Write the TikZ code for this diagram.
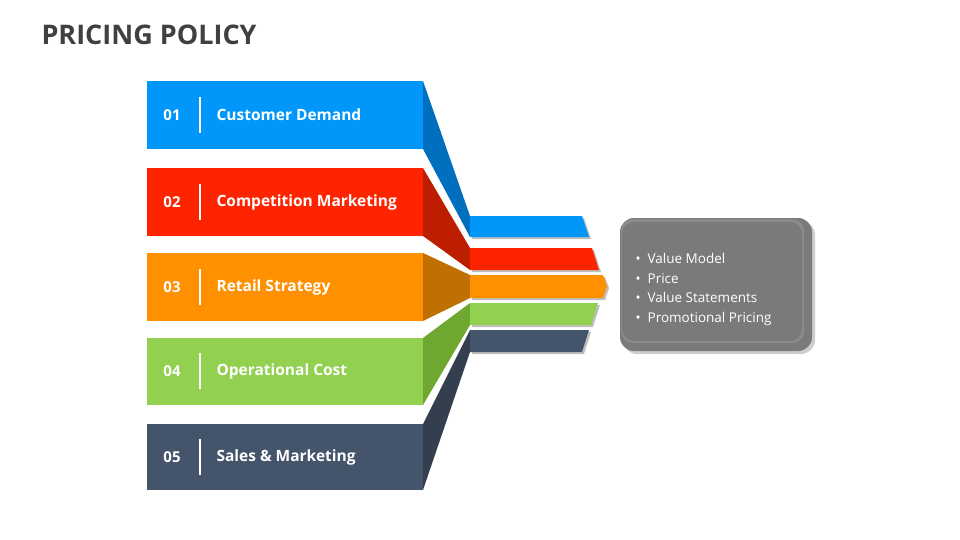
\documentclass[tikz,border=0pt]{standalone}
\usepackage{fontspec}
\setmainfont{Open Sans}
\begin{document}
\begin{tikzpicture}[x=1pt,y=-1pt,
  num/.style={text=white,font=\bfseries\fontsize{15}{18}\selectfont,anchor=center},
  lbl/.style={text=white,font=\bfseries\fontsize{15.5}{18}\selectfont,anchor=west},
  sep/.style={draw=white,line width=1.5pt},
  shd/.style={fill=black!25}]
\useasboundingbox (0,0) rectangle (960,540);
\definecolor{cA}{HTML}{0096FA}\definecolor{cAd}{HTML}{0070BE}
\definecolor{cB}{HTML}{FF2400}\definecolor{cBd}{HTML}{BD1E00}
\definecolor{cC}{HTML}{FF9100}\definecolor{cCd}{HTML}{C07000}
\definecolor{cD}{HTML}{92D050}\definecolor{cDd}{HTML}{6EA830}
\definecolor{cE}{HTML}{44546A}\definecolor{cEd}{HTML}{333F4F}
\node[anchor=west,text=black!75,font=\bfseries\fontsize{27}{30}\selectfont] (title) at (38,35) {PRICING POLICY};
% strips shadows
\fill[shd] (472,218)--(584,218)--(591,239)--(472,239)--cycle;
\fill[shd] (472,250)--(594,250)--(601,272)--(472,272)--cycle;
\fill[shd] (472,277)--(605,277)--(609,288)--(605,300)--(472,300)--cycle;
\fill[shd] (472,305)--(600,305)--(593,327)--(472,327)--cycle;
\fill[shd] (472,332)--(591,332)--(584,354)--(472,354)--cycle;
% sides
\fill[cAd] (423,81)--(470,216)--(470,237)--(423,149)--cycle;
\fill[cBd] (423,168)--(470,248)--(470,270)--(423,236)--cycle;
\fill[cCd] (423,253)--(470,275)--(470,298)--(423,321)--cycle;
\fill[cDd] (423,338)--(470,303)--(470,325)--(423,405)--cycle;
\fill[cEd] (423,424)--(470,330)--(470,352)--(423,490)--cycle;
% strips
\fill[cA] (470,216)--(582,216)--(589,237)--(470,237)--cycle;
\fill[cB] (470,248)--(592,248)--(599,270)--(470,270)--cycle;
\fill[cC] (470,275)--(603,275)--(607,286)--(603,298)--(470,298)--cycle;
\fill[cD] (470,303)--(598,303)--(591,325)--(470,325)--cycle;
\fill[cE] (470,330)--(589,330)--(582,352)--(470,352)--cycle;
% fronts
\fill[cA] (147,81) rectangle (423,149);
\fill[cB] (147,168) rectangle (423,236);
\fill[cC] (147,253) rectangle (423,321);
\fill[cD] (147,338) rectangle (423,405);
\fill[cE] (147,424) rectangle (423,490);
\foreach \y/\n/\t in {115/01/Customer Demand,202/02/Competition Marketing,287/03/Retail Strategy,371/04/Operational Cost,457/05/Sales \& Marketing}{
  \node[num] (n\n) at (172,\y) {\n};
  \draw[sep] (200,\y-18)--(200,\y+18);
  \node[lbl] (l\n) at (213,\y) {\t};
}
% gray box
\fill[black!20,rounded corners=14pt] (623,221) rectangle (815,354);
\fill[black!52,rounded corners=14pt] (620,218) rectangle (812,351);
\fill[black!45,rounded corners=12pt] (621,219) rectangle (804,343);
\fill[black!52,rounded corners=12pt] (622,222) rectangle (802,341);
\node[anchor=north west,text=white,font=\fontsize{13.5}{19.5}\selectfont,align=left] (box) at (632,250)
 {\textbullet\ \ Value Model\\ \textbullet\ \ Price\\ \textbullet\ \ Value Statements\\ \textbullet\ \ Promotional Pricing};
\end{tikzpicture}
\end{document}
